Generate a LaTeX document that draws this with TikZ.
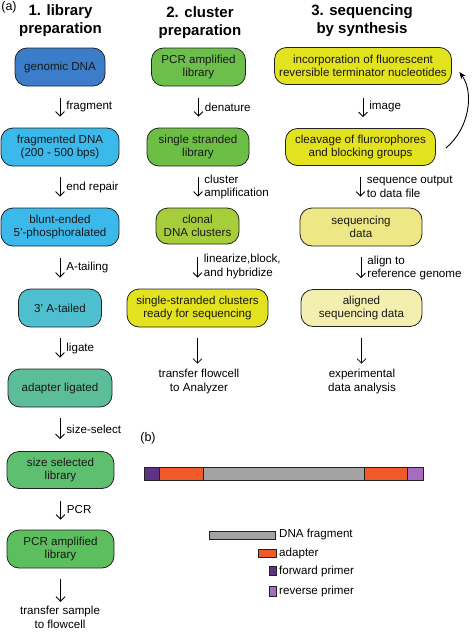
\documentclass[tikz,border=0pt]{standalone}
\usepackage{fontspec}
\setmainfont{Liberation Sans}
\usetikzlibrary{arrows.meta,calc}
\definecolor{cgdna}{HTML}{3B7DC8}
\definecolor{cfrag}{HTML}{3BB9EA}
\definecolor{catail}{HTML}{4DBFCF}
\definecolor{cadapt}{HTML}{5BBD99}
\definecolor{csize}{HTML}{5EBF70}
\definecolor{cpcra}{HTML}{5CBE5E}
\definecolor{cpcrb}{HTML}{6BBF4A}
\definecolor{cssl}{HTML}{6DBE45}
\definecolor{cclonal}{HTML}{A5CE3A}
\definecolor{cyel}{HTML}{E3E21E}
\definecolor{cseqd}{HTML}{EEE785}
\definecolor{calign}{HTML}{F3EFAE}
\definecolor{cpurd}{HTML}{5E3386}
\definecolor{corange}{HTML}{F0592A}
\definecolor{cgray}{HTML}{A3A3A3}
\definecolor{cpurl}{HTML}{A36EBE}
\definecolor{cline}{HTML}{222222}
\begin{document}
\begin{tikzpicture}[x=1pt,y=-1pt,
  box/.style={draw=cline, line width=0.8pt, rounded corners=12pt, align=center,
    inner sep=0pt, text=black!90, font=\fontsize{11.6}{13.5}\selectfont},
  lbl/.style={align=left, anchor=west, inner sep=0pt, xshift=6pt,
    font=\fontsize{11.6}{13.5}\selectfont},
  txt/.style={align=center, inner sep=0pt, font=\fontsize{11.6}{14.5}\selectfont},
  ttl/.style={align=center, inner sep=0pt, font=\fontsize{15}{18}\selectfont\bfseries},
  flow/.style={-{Straight Barb[length=4.5pt,width=9pt]}, line width=0.8pt},
  seg/.style={draw=cline, line width=0.7pt},
  legtxt/.style={anchor=west, inner sep=0pt, font=\fontsize{11.6}{13.5}\selectfont},
]
\useasboundingbox (0,0) rectangle (474,632);

% panel labels and titles
\node[inner sep=0pt, font=\fontsize{12.5}{14}\selectfont] (la) at (9,7) {(a)};
\node[inner sep=0pt, font=\fontsize{12.5}{14}\selectfont] (lb) at (148,438) {(b)};
\node[ttl] (t1) at (60.5,21) {1. library\\preparation};
\node[ttl] (t2) at (200,23) {2. cluster\\preparation};
\node[ttl] (t3) at (362,21) {3. sequencing\\by synthesis};

% column 1
\node[box, fill=cgdna, minimum width=90pt, minimum height=38pt] (g1) at (60,67) {genomic DNA};
\node[box, fill=cfrag, minimum width=118pt, minimum height=38pt] (g2) at (60,147) {fragmented DNA\\(200 - 500 bps)};
\node[box, fill=cfrag, minimum width=118pt, minimum height=38pt] (g3) at (60,227) {blunt-ended\\5'-phosphoralated};
\node[box, fill=catail, minimum width=83pt, minimum height=38pt] (g4) at (60,308) {3' A-tailed};
\node[box, fill=cadapt, minimum width=104pt, minimum height=38pt] (g5) at (60,388) {adapter ligated};
\node[box, fill=csize, minimum width=107pt, minimum height=37pt] (g6) at (60.5,470) {size selected\\library};
\node[box, fill=cpcra, minimum width=107pt, minimum height=38pt] (g7) at (60.5,549) {PCR amplified\\library};
\node[txt] (g8) at (60,617.5) {transfer sample\\to flowcell};

\draw[flow, shorten <=12pt, shorten >=11pt] (g1.south) -- (g1.south |- g2.north) node[midway, lbl] {fragment};
\draw[flow, shorten <=11pt, shorten >=11pt] (g2.south) -- (g2.south |- g3.north) node[midway, lbl] {end repair};
\draw[flow, shorten <=12pt, shorten >=11pt] (g3.south) -- (g3.south |- g4.north) node[midway, lbl] {A-tailing};
\draw[flow, shorten <=11pt, shorten >=11pt] (g4.south) -- (g4.south |- g5.north) node[midway, lbl] {ligate};
\draw[flow, shorten <=11pt, shorten >=12pt] (g5.south) -- (g5.south |- g6.north) node[midway, lbl] {size-select};
\draw[flow, shorten <=12pt, shorten >=10pt] (g6.south) -- (g6.south |- g7.north) node[midway, lbl] {PCR};
\draw[flow, shorten <=11pt, shorten >=4pt] (g7.south) -- (g7.south |- g8.north);

% column 2
\node[box, fill=cpcrb, minimum width=94pt, minimum height=38pt] (c1) at (198.5,67) {PCR amplified\\library};
\node[box, fill=cssl, minimum width=102pt, minimum height=38pt] (c2) at (198,147) {single stranded\\library};
\node[box, fill=cclonal, minimum width=83pt, minimum height=36pt] (c3) at (197.5,226) {clonal\\DNA clusters};
\node[box, fill=cyel, minimum width=141pt, minimum height=38pt] (c4) at (197.5,308) {single-stranded clusters\\ready for sequencing};
\node[txt] (c5) at (199,381.5) {transfer flowcell\\to Analyzer};

\draw[flow, shorten <=12pt, shorten >=11pt] (c1.south) -- (c1.south |- c2.north) node[midway, lbl] {denature};
\draw[flow, shorten <=11pt, shorten >=11pt] (c2.south) -- (c2.south |- c3.north) node[midway, lbl] {cluster\\amplification};
\draw[flow, shorten <=13pt, shorten >=11pt] (c3.south) -- (c3.south |- c4.north) node[midway, lbl] {linearize,block,\\and hybridize};
\draw[flow, shorten <=11pt, shorten >=5pt] (c4.south) -- (c4.south |- c5.north);

% column 3
\node[box, fill=cyel, minimum width=177pt, minimum height=37pt] (s1) at (363,66) {incorporation of fluorescent\\reversible terminator nucleotides};
\node[box, fill=cyel, minimum width=150pt, minimum height=37pt] (s2) at (360.5,147) {cleavage of flurorophores\\and blocking groups};
\node[box, fill=cseqd, minimum width=122pt, minimum height=38pt] (s3) at (361,227) {sequencing\\data};
\node[box, fill=calign, minimum width=121pt, minimum height=37pt] (s4) at (361.5,308) {aligned\\sequencing data};
\node[txt] (s5) at (362,381.5) {experimental\\data analysis};

\draw[flow, shorten <=13pt, shorten >=11pt] (s1.south) -- (s1.south |- s2.north) node[midway, lbl] {image};
\draw[flow, shorten <=11pt, shorten >=11pt] (s2.south) -- (s2.south |- s3.north) node[midway, lbl] {sequence output\\to data file};
\draw[flow, shorten <=11pt, shorten >=11pt] (s3.south) -- (s3.south |- s4.north) node[midway, lbl] {align to\\reference genome};
\draw[flow, shorten <=11pt, shorten >=5pt] (s4.south) -- (s4.south |- s5.north);

% cycle arrow
\coordinate (cyA) at ($(s2.east)+(10,1)$);
\coordinate (cyB) at ($(s1.east)+(7.5,6)$);
\draw[-{Stealth[length=7pt,width=5.5pt]}, line width=0.9pt]
  (cyA) .. controls (470,128) and (474,92) .. (cyB);

% panel (b): construct bar
\path[seg, fill=cpurd] (144,467) rectangle (159,480);
\path[seg, fill=corange] (159,467) rectangle (203,480);
\path[seg, fill=cgray] (203,467) rectangle (364,480);
\path[seg, fill=corange] (364,467) rectangle (407,480);
\path[seg, fill=cpurl] (407,467) rectangle (423,480);

% legend
\node[seg, fill=cgray, minimum width=66pt, minimum height=8pt, inner sep=0pt] (k1) at (242,535) {};
\node[legtxt] (l1) at (279,535) {DNA fragment};
\node[seg, fill=corange, minimum width=18pt, minimum height=8pt, inner sep=0pt] (k2) at (267,553) {};
\node[legtxt] (l2) at (279,553) {adapter};
\node[seg, fill=cpurd, minimum width=7pt, minimum height=9pt, inner sep=0pt] (k3) at (272.5,570.5) {};
\node[legtxt] (l3) at (279,571) {forward primer};
\node[seg, fill=cpurl, minimum width=7pt, minimum height=10pt, inner sep=0pt] (k4) at (272.5,591) {};
\node[legtxt] (l4) at (279,591) {reverse primer};
\end{tikzpicture}
\end{document}
